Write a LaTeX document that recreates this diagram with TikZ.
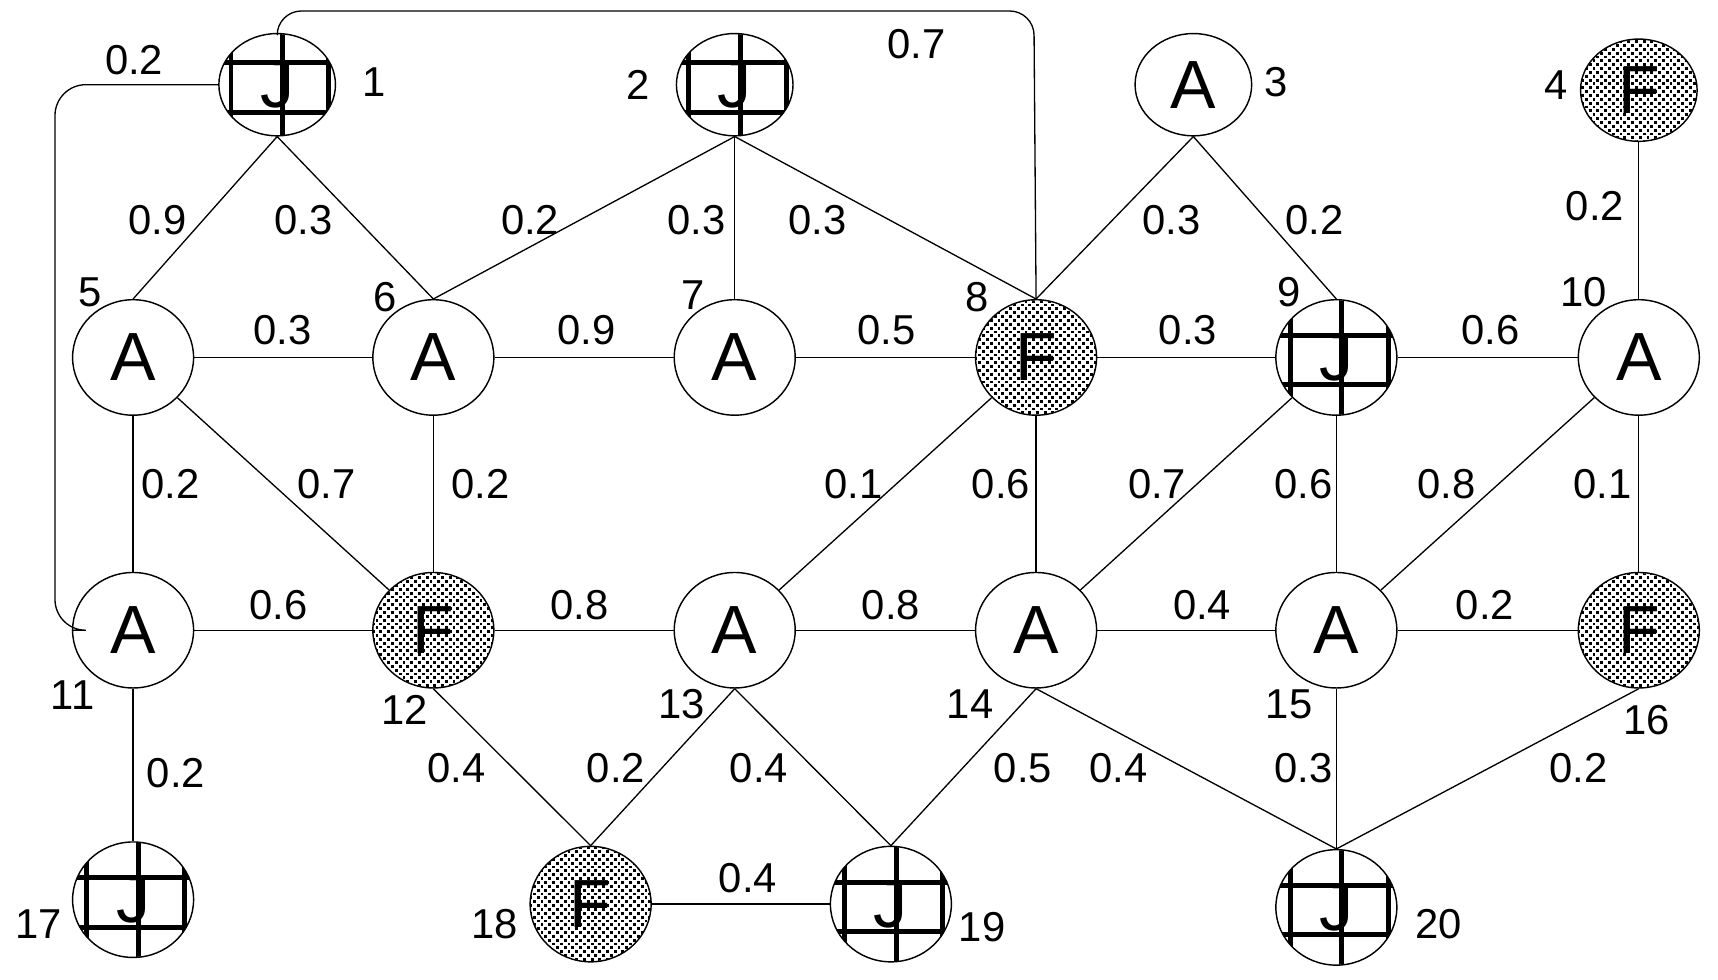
\documentclass[tikz,border=0pt]{standalone}
\usepackage{fontspec}
\setmainfont{Liberation Sans}
\usetikzlibrary{shapes.geometric}
\tikzset{
 vtx/.style={ellipse,draw,line width=1.3pt,inner sep=0pt,font=\fontsize{62}{62}\selectfont},
 big/.style={vtx,minimum width=110pt,minimum height=105pt},
 small/.style={vtx,minimum width=106pt,minimum height=93pt},
 lab/.style={font=\fontsize{38}{40}\selectfont,inner sep=0pt},
 edge/.style={line width=1.2pt}
}
\newcommand\gridpat[4]{%
 \begin{scope}\clip (#1,#2) ellipse [x radius=#3, y radius=#4];
 \foreach \dx in {-42,5,47} \draw[line width=4.5pt] (#1+\dx,#2-60) -- (#1+\dx,#2+60);
 \foreach \dy in {-20,25} \draw[line width=4.5pt] (#1-60,#2+\dy) -- (#1+60,#2+\dy);
 \end{scope}}
\newcommand\dotpat[4]{%
 \begin{scope}\clip (#1,#2) ellipse [x radius=#3, y radius=#4];
 \foreach \i in {-8,...,8} \foreach \j in {-8,...,8} {
  \fill (#1+\i*7,#2+\j*7) rectangle ++(2.6,2.6);
  \fill (#1+\i*7+3.5,#2+\j*7+3.5) rectangle ++(2.6,2.6);}
 \end{scope}}
\begin{document}
\begin{tikzpicture}[x=1pt,y=-1pt]
\useasboundingbox (0,0) rectangle (1562,891);
% patterns
\gridpat{252}{77}{53}{46}
\gridpat{668}{77}{53}{46}
\dotpat{1490}{82}{53}{46}
\dotpat{942}{325}{55}{52}
\gridpat{1215}{325}{55}{52}
\dotpat{394}{573}{55}{52}
\dotpat{1490}{573}{55}{52}
\gridpat{121}{818}{55}{52}
\dotpat{537}{822}{55}{52}
\gridpat{810}{822}{55}{52}
\gridpat{1215}{825}{55}{52}
% nodes
\node[small] (n1) at (252,77) {J};
\node[small] (n2) at (668,77) {J};
\node[small] (n3) at (1085,77) {A};
\node[small] (n4) at (1490,82) {F};
\node[big] (n5) at (121,325) {A};
\node[big] (n6) at (394,325) {A};
\node[big] (n7) at (668,325) {A};
\node[big] (n8) at (942,325) {F};
\node[big] (n9) at (1215,325) {J};
\node[big] (n10) at (1490,325) {A};
\node[big] (n11) at (121,573) {A};
\node[big] (n12) at (394,573) {F};
\node[big] (n13) at (668,573) {A};
\node[big] (n14) at (942,573) {A};
\node[big] (n15) at (1215,573) {A};
\node[big] (n16) at (1490,573) {F};
\node[big] (n17) at (121,818) {J};
\node[big] (n18) at (537,822) {F};
\node[big] (n19) at (810,822) {J};
\node[big] (n20) at (1215,825) {J};
% node numbers
\foreach \t/\x/\y in {1/340/75,2/580/77,3/1160/75,4/1415/77,5/82/266,6/350/270,7/630/268,8/888/270,9/1172/266,10/1440/266,11/66/632,12/368/645,13/620/640,14/882/640,15/1172/640,16/1497/655,17/35/840,18/450/840,19/893/843,20/1308/840}
 \node[lab] (num\t) at (\x,\y) {\t};
% edges
\draw[edge,rounded corners=28] (n1.west) -- (50,77) -- (50,573) -- (n11.west);
\draw[edge,rounded corners=22] (n1.north) -- (252,10) -- (940,10) -- (n8.north);
\draw[edge] (n1.south) -- (n5.north);
\draw[edge] (n1.south) -- (n6.north);
\draw[edge] (n2.south) -- (n6.north);
\draw[edge] (n2.south) -- (n7.north);
\draw[edge] (n2.south) -- (n8.north);
\draw[edge] (n3.south) -- (n8.north);
\draw[edge] (n3.south) -- (n9.north);
\draw[edge] (n4.south) -- (n10.north);
\draw[edge] (n5) -- (n6);
\draw[edge] (n6) -- (n7);
\draw[edge] (n7) -- (n8);
\draw[edge] (n8) -- (n9);
\draw[edge] (n9) -- (n10);
\draw[edge] (n5) -- (n11);
\draw[edge] (n5) -- (n12);
\draw[edge] (n6) -- (n12);
\draw[edge] (n13) -- (n8);
\draw[edge] (n8) -- (n14);
\draw[edge] (n14) -- (n9);
\draw[edge] (n9) -- (n15);
\draw[edge] (n15) -- (n10);
\draw[edge] (n10) -- (n16);
\draw[edge] (n11) -- (n12);
\draw[edge] (n12) -- (n13);
\draw[edge] (n13) -- (n14);
\draw[edge] (n14) -- (n15);
\draw[edge] (n15) -- (n16);
\draw[edge] (n11) -- (n17);
\draw[edge] (n12.south) -- (n18.north);
\draw[edge] (n13.south) -- (n18.north);
\draw[edge] (n13.south) -- (n19.north);
\draw[edge] (n14.south) -- (n19.north);
\draw[edge] (n14.south) -- (n20.north);
\draw[edge] (n15.south) -- (n20.north);
\draw[edge] (n16.south) -- (n20.north);
\draw[edge] (n18) -- (n19);
% edge labels
\foreach \t/\x/\y [count=\k] in {0.2/122/55,0.7/833/40,0.9/143/200,0.3/276/200,0.2/482/200,0.3/633/200,0.3/743/200,0.3/1065/200,0.2/1195/200,0.2/1450/187,0.3/257/300,0.9/533/300,0.5/806/300,0.3/1080/300,0.6/1355/300,0.2/155/440,0.7/297/440,0.2/437/440,0.1/776/440,0.6/910/440,0.7/1052/440,0.6/1185/440,0.8/1315/440,0.1/1457/440,0.6/253/550,0.8/527/550,0.8/810/550,0.4/1093/550,0.2/1350/550,0.2/160/703,0.4/415/698,0.2/560/698,0.4/690/698,0.5/930/698,0.4/1017/698,0.3/1185/698,0.2/1435/698,0.4/680/798}
 \node[lab] (w\k) at (\x,\y) {\t};
\end{tikzpicture}
\end{document}
